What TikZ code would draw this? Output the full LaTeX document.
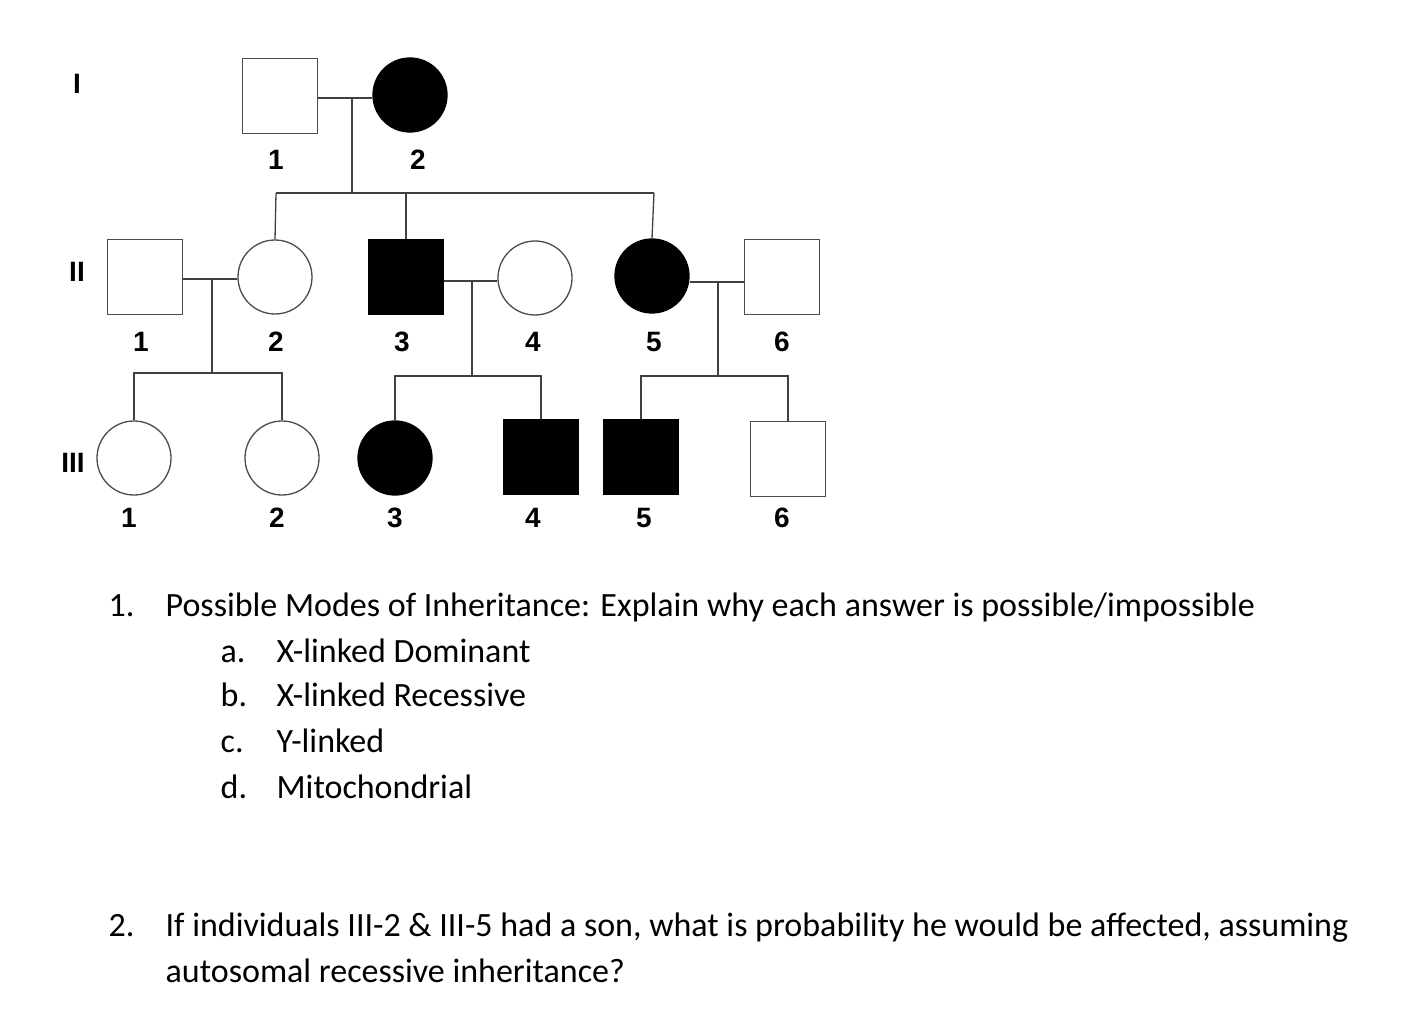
\documentclass[tikz,border=0pt]{standalone}
\usepackage{fontspec}
\setmainfont{Carlito}
\newfontfamily\lab{Liberation Sans}
\begin{document}
\begin{tikzpicture}[x=1pt,y=-1pt,line width=1.3pt,
  male/.style={draw=black!70,fill=white,minimum size=75pt,inner sep=0pt,shape=rectangle},
  female/.style={draw=black!70,fill=white,minimum size=74pt,inner sep=0pt,shape=circle},
  aff/.style={fill=black,draw=black},
  num/.style={font=\lab\bfseries\fontsize{28}{28}\selectfont,inner sep=0pt},
  txt/.style={font=\fontsize{34}{34}\selectfont,anchor=base west,inner sep=0pt},
  ln/.style={draw=black!75,line width=1.3pt}]
\useasboundingbox (0,0) rectangle (1412,1016);
% generation I
\node[male] (a1) at (280,96) {};
\node[female,aff] (a2) at (410,95) {};
\coordinate (m1) at (352,98);
\coordinate (s1) at (352,193);
\draw[ln] (a1.east|-m1) -- (a2.west|-m1);
\draw[ln] (m1) -- (s1);
% generation II
\node[male] (b1) at (145,277) {};
\node[female] (b2) at (275,277) {};
\node[male,aff] (b3) at (406,277) {};
\node[female] (b4) at (535,278) {};
\node[female,aff] (b5) at (652,276) {};
\node[male] (b6) at (782,277) {};
\draw[ln] (276,193) -- (654,193);
\draw[ln] (276,193) -- (b2.north);
\draw[ln] (406,193) -- (b3.north);
\draw[ln] (654,193) -- (b5.north);
\coordinate (m2) at (212,279);
\coordinate (m3) at (472,281);
\coordinate (m4) at (718,282);
\draw[ln] (b1.east|-m2) -- (b2.west|-m2);
\draw[ln] (b3.east|-m3) -- (b4.west|-m3);
\draw[ln] (b5.east|-m4) -- (b6.west|-m4);
\draw[ln] (m2) -- (212,373);
\draw[ln] (m3) -- (472,376);
\draw[ln] (m4) -- (718,376);
% generation III
\node[female] (c1) at (134,458) {};
\node[female] (c2) at (282,458) {};
\node[female,aff] (c3) at (395,458) {};
\node[male,aff] (c4) at (541,457) {};
\node[male,aff] (c5) at (641,457) {};
\node[male] (c6) at (788,459) {};
\draw[ln] (c1.north) -- (134,373) -- (282,373) -- (c2.north);
\draw[ln] (c3.north) -- (395,376) -- (541,376) -- (c4.north);
\draw[ln] (c5.north) -- (641,376) -- (788,376) -- (c6.north);
% labels
\node[num] (r1) at (77,84) {I};
\node[num] (r2) at (77,272) {II};
\node[num] (r3) at (73,463) {III};
\node[num] (l11) at (276,160) {1};
\node[num] (l12) at (418,160) {2};
\node[num] (l21) at (141,342) {1};
\node[num] (l22) at (276,342) {2};
\node[num] (l23) at (402,342) {3};
\node[num] (l24) at (533,342) {4};
\node[num] (l25) at (654,342) {5};
\node[num] (l26) at (782,342) {6};
\node[num] (l31) at (129,518) {1};
\node[num] (l32) at (277,518) {2};
\node[num] (l33) at (395,518) {3};
\node[num] (l34) at (533,518) {4};
\node[num] (l35) at (644,518) {5};
\node[num] (l36) at (782,518) {6};
% text
\node[txt] (q1n) at (108,616) {1.};
\node[txt] (q1) at (165,616) {Possible Modes of Inheritance: Explain why each answer is possible/impossible};
\node[txt] (qa) at (220,662) {a.};
\node[txt] (qat) at (276,662) {X-linked Dominant};
\node[txt] (qb) at (220,706) {b.};
\node[txt] (qbt) at (276,706) {X-linked Recessive};
\node[txt] (qc) at (220,752) {c.};
\node[txt] (qct) at (276,752) {Y-linked};
\node[txt] (qd) at (220,798) {d.};
\node[txt] (qdt) at (276,798) {Mitochondrial};
\node[txt] (q2n) at (108,936) {2.};
\node[txt] (q2) at (165,936) {If individuals III-2 \& III-5 had a son, what is probability he would be affected, assuming};
\node[txt] (q2b) at (165,982) {autosomal recessive inheritance?};
\end{tikzpicture}
\end{document}
